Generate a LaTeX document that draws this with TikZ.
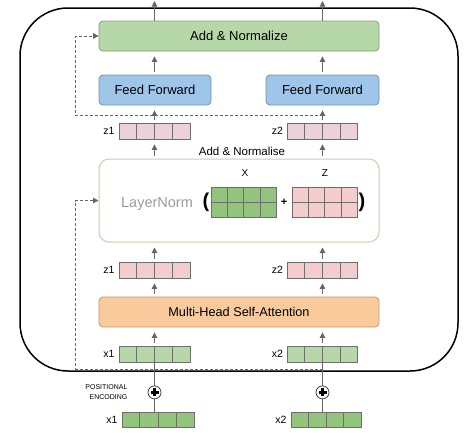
\documentclass[tikz,border=0pt]{standalone}
\usepackage{fontspec}
\setmainfont{Liberation Sans}
\usepackage{xcolor}
\usetikzlibrary{positioning, calc, arrows.meta}

\definecolor{addgreen}{HTML}{B6D7A8}
\definecolor{addborder}{HTML}{86A07A}
\definecolor{ffblue}{HTML}{9FC5E8}
\definecolor{ffborder}{HTML}{7390AD}
\definecolor{attnorange}{HTML}{F9CB9C}
\definecolor{attnborder}{HTML}{C49670}
\definecolor{zpurple}{HTML}{EAD1DC}
\definecolor{zpink}{HTML}{F4CCCC}
\definecolor{xlight}{HTML}{B6D7A8}
\definecolor{xdark}{HTML}{93C47D}
\definecolor{cellborder}{HTML}{6E6E6E}
\definecolor{linkgray}{HTML}{666666}
\definecolor{textgray}{HTML}{9A9A9A}

\begin{document}
\begin{tikzpicture}[
        x=1pt, y=-1pt,
        >={Triangle[length=5.5pt, width=5.5pt]},
        every node/.style={font=\fontsize{10.5}{12}\selectfont},
        block/.style={draw, rectangle, rounded corners=4pt, minimum height=30pt, line width=0.8pt, align=center, font=\fontsize{13}{15}\selectfont},
        vec/.style={draw=cellborder, rectangle, minimum width=71pt, minimum height=16pt, inner sep=0pt, line width=0.8pt},
        cellline/.style={draw=cellborder, line width=0.8pt},
        link/.style={->, draw=linkgray, line width=1pt, shorten <=3pt, shorten >=5pt},
        resid/.style={->, draw=linkgray, line width=0.9pt, dash pattern=on 3pt off 2pt},
        lbl/.style={inner sep=1pt, font=\fontsize{10.5}{12}\selectfont}
    ]
    \useasboundingbox (0,0) rectangle (474,432);

    \node[draw, line width=1.5pt, rounded corners=48pt, minimum width=438pt, minimum height=363pt] (encoder) at (239,189.5) {};

    \node[block, fill=addgreen, draw=addborder, minimum width=280pt] (add) at (239,36) {Add \& Normalize};
    \node[block, fill=ffblue, draw=ffborder, minimum width=112pt] (ff1) at (155,90) {Feed Forward};
    \node[block, fill=ffblue, draw=ffborder, minimum width=113pt] (ff2) at (322.5,90) {Feed Forward};

    \node[vec, fill=zpurple] (zu1) at (154.5,131) {};
    \node[vec, fill=zpurple, minimum width=70pt] (zu2) at (322.5,131) {};
    \node[lbl, left=3pt of zu1] (zu1lbl) {z1};
    \node[lbl, left=3pt of zu2] (zu2lbl) {z2};

    \node[draw=addgreen, rectangle, rounded corners=10pt, line width=1pt, minimum width=280pt, minimum height=83pt] (ln) at (239,200.5) {};
    \node[font=\fontsize{11.5}{13}\selectfont] (lntitle) at (242,151) {Add \& Normalise};
    \node[text=textgray, font=\fontsize{14.5}{16}\selectfont] (lntext) at (157,204) {LayerNorm};
    \node[vec, fill=xdark, minimum width=65pt, minimum height=30pt] (mx) at (243.5,202) {};
    \node[vec, fill=zpink, minimum width=65pt, minimum height=30pt] (mz) at (324.5,202) {};
    \node[inner sep=0pt, font=\fontsize{20}{20}\selectfont\bfseries, left=1pt of mx] (lpar) {(};
    \node[inner sep=0pt, font=\fontsize{20}{20}\selectfont\bfseries, right=1pt of mz] (rpar) {)};
    \node[inner sep=0pt, font=\fontsize{11}{11}\selectfont\bfseries] (plus) at ($(mx.east)!0.5!(mz.west)$) {+};
    \node[font=\fontsize{10}{12}\selectfont] (xlbl) at (245,173) {X};
    \node[font=\fontsize{10}{12}\selectfont] (zlbl) at (325,173) {Z};

    \node[vec, fill=zpink] (zl1) at (154.5,270) {};
    \node[vec, fill=zpink, minimum width=70pt] (zl2) at (322.5,270) {};
    \node[lbl, left=3pt of zl1] (zl1lbl) {z1};
    \node[lbl, left=3pt of zl2] (zl2lbl) {z2};

    \node[block, fill=attnorange, draw=attnborder, minimum width=280pt, font=\fontsize{12.7}{15}\selectfont] (mhsa) at (239,312) {Multi-Head Self-Attention};

    \node[vec, fill=xlight] (xi1) at (154.5,354) {};
    \node[vec, fill=xlight, minimum width=70pt] (xi2) at (322.5,354) {};
    \node[lbl, left=3pt of xi1] (xi1lbl) {x1};
    \node[lbl, left=3pt of xi2] (xi2lbl) {x2};

    \node[vec, fill=xdark, minimum width=72pt, minimum height=15pt] (xb1) at (158,419.5) {};
    \node[vec, fill=xdark, minimum width=70pt, minimum height=15pt] (xb2) at (326,419.5) {};
    \node[lbl, left=3pt of xb1] (xb1lbl) {x1};
    \node[lbl, left=3pt of xb2] (xb2lbl) {x2};

    \foreach \v in {zu1,zu2,zl1,zl2,xi1,xi2,xb1,xb2,mx,mz}
        \foreach \i in {1,2,3}
            \draw[cellline] ($(\v.south west)!\i/4!(\v.south east)$) -- ($(\v.north west)!\i/4!(\v.north east)$);
    \draw[cellline] (mx.west) -- (mx.east);
    \draw[cellline] (mz.west) -- (mz.east);

    \draw[draw=linkgray, line width=1pt] (xb1.north -| xi1.south) -- (xi1.south);
    \draw[draw=linkgray, line width=1pt] (xb2.north -| xi2.south) -- (xi2.south);
    \foreach \p/\v in {pe1/xi1, pe2/xi2} {
        \node[circle, draw=darkgray, fill=white, line width=0.8pt, minimum size=13pt, inner sep=0pt] (\p) at ($(\v.south)+(0,30)$) {};
        \draw[line width=2.4pt] ($(\p.center)+(-4,0)$) -- ($(\p.center)+(4,0)$);
        \draw[line width=2.4pt] ($(\p.center)+(0,-4)$) -- ($(\p.center)+(0,4)$);
    }
    \node[align=right, inner sep=0pt, font=\fontsize{7}{10}\selectfont, left=20pt of pe1] (poslbl) {POSITIONAL\\ENCODING};

    \coordinate (out1) at (154.5,0);
    \coordinate (out2) at (322.5,0);
    \draw[->, draw=linkgray, line width=1pt, shorten >=1pt] (add.north -| out1) -- (out1);
    \draw[->, draw=linkgray, line width=1pt, shorten >=1pt] (add.north -| out2) -- (out2);

    \draw[link] (ff1.north -| zu1.north) -- (add.south -| zu1.north);
    \draw[link] (ff2.north -| zu2.north) -- (add.south -| zu2.north);
    \draw[link] (zu1.north) -- (zu1.north |- ff1.south);
    \draw[link] (zu2.north) -- (zu2.north |- ff2.south);
    \draw[link] (ln.north -| zu1.south) -- (zu1.south);
    \draw[link] (ln.north -| zu2.south) -- (zu2.south);
    \draw[link] (zl1.north) -- (zl1.north |- ln.south);
    \draw[link] (zl2.north) -- (zl2.north |- ln.south);
    \draw[link] (mhsa.north -| zl1.south) -- (zl1.south);
    \draw[link] (mhsa.north -| zl2.south) -- (zl2.south);
    \draw[link] (xi1.north) -- (xi1.north |- mhsa.south);
    \draw[link] (xi2.north) -- (xi2.north |- mhsa.south);

    \draw[resid] ([yshift=-7pt]xi2.south) -| ([xshift=-23pt]ln.west) -- (ln.west);
    \draw[resid] ([yshift=7pt]zu2.north) -| ([xshift=-23pt]add.west) -- (add.west);

\end{tikzpicture}
\end{document}
